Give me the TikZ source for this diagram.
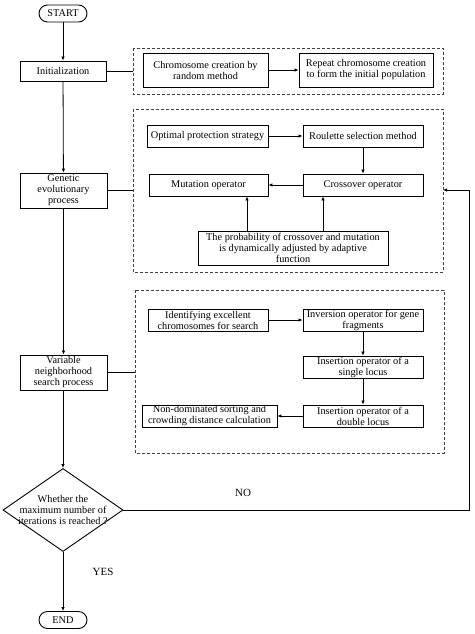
\documentclass[tikz,border=0pt]{standalone}
\usepackage{fontspec}
\setmainfont{Liberation Serif}
\usetikzlibrary{shapes.geometric,arrows.meta}
\begin{document}
\begin{tikzpicture}[x=1pt,y=-1pt,
  every node/.style={font=\fontsize{10.3}{11}\selectfont},
  box/.style={draw,line width=0.9pt,inner sep=0pt,align=center},
  term/.style={draw,line width=0.9pt,rounded corners=8.5pt,minimum width=48pt,minimum height=17pt,inner sep=1pt},
  grp/.style={draw=black!75,line width=0.9pt,dash pattern=on 3pt off 2pt},
  arr/.style={-{Latex[length=4pt,width=3.5pt]},line width=0.8pt},
  ln/.style={line width=0.8pt}]
\useasboundingbox (0,0) rectangle (474,634);
% main column
\node[term] (start) at (63,13.5) {START};
\node[box,minimum width=86pt,minimum height=20pt] (init) at (63,71) {Initialization};
\node[box,minimum width=87pt,minimum height=35pt] (gen) at (63.5,190.5) {Genetic\\evolutionary\\process};
\node[box,minimum width=87pt,minimum height=35pt] (vns) at (63.5,372.5) {Variable\\neighborhood\\search process};
\node[draw,line width=0.9pt,diamond,aspect=1.45,minimum width=120pt,minimum height=83pt,inner sep=-12pt,align=center] (dec) at (63,510) {Whether the\\maximum number of\\iterations is reached ?};
\node[term] (end) at (63,620) {END};
% group 1
\draw[grp] (133,48) rectangle (443,94);
\coordinate (g1l) at (133,71);
\node[box,minimum width=125pt,minimum height=34pt] (cr) at (205.5,70) {Chromosome creation by\\random method};
\node[box,minimum width=134pt,minimum height=34pt] (rep) at (366,70) {Repeat chromosome creation\\to form the initial population};
% group 2
\draw[grp] (133,109) rectangle (443,272);
\coordinate (g2l) at (133,190.5);
\coordinate (g2r) at (443,190);
\node[box,minimum width=121pt,minimum height=22pt] (opt) at (207.5,136) {Optimal protection strategy};
\node[box,minimum width=120pt,minimum height=22pt] (rou) at (363,136) {Roulette selection method};
\node[box,minimum width=119pt,minimum height=22pt] (mut) at (208.5,185) {Mutation operator};
\node[box,minimum width=120pt,minimum height=22pt] (cro) at (363,185) {Crossover operator};
\node[box,minimum width=190pt,minimum height=34pt] (prob) at (293,248) {The probability of crossover and mutation\\is dynamically adjusted by adaptive\\function};
% group 3
\draw[grp] (135,290) rectangle (444,453);
\coordinate (g3l) at (135,372);
\node[box,minimum width=120pt,minimum height=22pt] (idf) at (208,320) {Identifying excellent\\chromosomes for search};
\node[box,minimum width=120pt,minimum height=22pt] (inv) at (363,320) {Inversion operator for gene\\fragments};
\node[box,minimum width=120pt,minimum height=22pt] (ins1) at (363,367) {Insertion operator of a\\single locus};
\node[box,minimum width=120pt,minimum height=22pt] (ins2) at (363,416) {Insertion operator of a\\double locus};
\node[box,minimum width=135pt,minimum height=22pt] (nds) at (209.5,416) {Non-dominated sorting and\\crowding distance calculation};
% labels
\node (no) at (243,493) {\fontsize{11}{12}\selectfont NO};
\node (yes) at (103,572) {\fontsize{11}{12}\selectfont YES};
% main connectors
\draw[arr] (start) -- (init);
\draw[arr] (init) -- (gen);
\draw[arr] (gen) -- (vns);
\draw[arr] (vns.south -| dec.north) -- (dec);
\draw[arr] (dec) -- (end);
\draw[ln] (init.east) -- (init.east -| g1l);
\draw[ln] (gen.east) -- (gen.east -| g2l);
\draw[ln] (vns.east) -- (vns.east -| g3l);
\coordinate (fb) at (469,510);
\coordinate (fb2) at (469,190);
\draw[arr] (dec.east) -- (fb) -- (fb2) -- (g2r);
% inner connectors
\draw[arr] (cr) -- (rep);
\draw[arr] (opt) -- (rou);
\draw[arr] (rou) -- (cro);
\draw[arr] (cro) -- (mut);
\draw[arr] (prob.north -| 247,0) -- (mut.south -| 247,0);
\draw[arr] (prob.north -| 323,0) -- (cro.south -| 323,0);
\draw[arr] (idf) -- (inv);
\draw[arr] (inv) -- (ins1);
\draw[arr] (ins1) -- (ins2);
\draw[arr] (ins2) -- (nds);
\end{tikzpicture}
\end{document}
